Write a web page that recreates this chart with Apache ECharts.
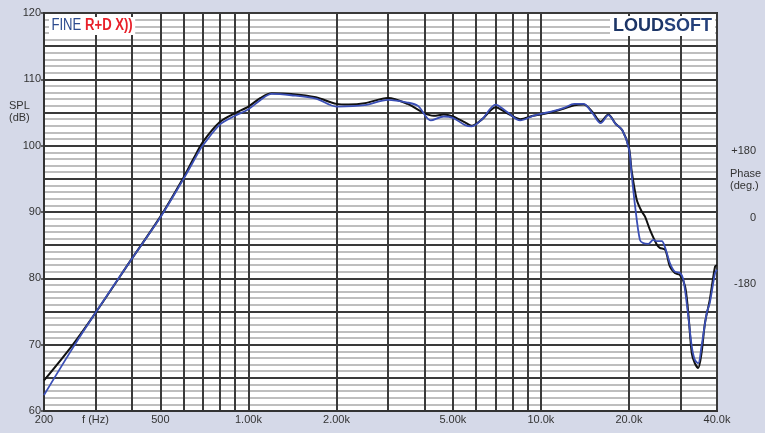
<!DOCTYPE html>
<html>
<head>
<meta charset="utf-8">
<script src="https://cdn.jsdelivr.net/npm/echarts@6/dist/echarts.min.js"></script>
<style>
html,body{margin:0;padding:0;background:#d5d9e8;}
#c{width:765px;height:433px;}
</style>
</head>
<body>
<div id="c"></div>
<script>
// ---- data ----
const blackFreq = [200,250,300,400,500,600,650,700,800,900,1000,1100,1200,1400,1700,2000,2200,2500,3000,3500,4000,4300,4650,5000,5500,5800,6300,7000,7600,8500,9400,10000,11000,12000,13000,14000,15000,16000,17000,18000,19000,20000,20400,21250,22100,22700,23600,24900,25500,26600,27600,28700,29900,31100,31900,32800,33600,34500,35400,36400,37800,39400,40000];
const blackSpl  = [64.6,69.9,74.8,83.0,89.3,95.2,98.1,100.6,103.6,104.9,105.9,107.2,107.9,107.8,107.3,106.3,106.2,106.4,107.2,106.3,104.9,104.5,104.7,104.4,103.5,103.0,104.0,105.8,105.0,104.0,104.5,104.7,105.1,105.6,106.1,106.2,105.1,103.6,104.7,103.3,102.3,99.7,96.4,91.9,90.1,89.3,87.3,85.1,84.6,84.3,81.8,80.8,80.5,78.8,74.8,68.7,67.2,66.5,68.7,73.3,76.8,81.8,82.0];

const blueFreq = [200,250,300,400,500,600,683,700,800,900,1000,1100,1200,1400,1700,2000,2500,3000,3500,3800,4200,4650,5000,5500,5800,6300,7000,7600,8500,9400,10000,11000,12000,13000,14000,15000,16000,17000,18000,19000,20000,20400,21000,21800,22400,23300,24200,24900,25900,26600,27600,28700,29900,30700,31900,32800,33600,34500,35400,36900,37800,39400,40000];
const blueSpl  = [62.4,69.4,74.8,83.0,89.2,95.0,99.4,100.1,103.2,104.5,105.5,106.9,107.8,107.6,107.1,105.9,106.1,106.9,106.5,106.0,103.8,104.4,104.2,103.1,102.9,104.0,106.2,105.2,103.8,104.5,104.8,105.2,105.7,106.3,106.3,104.9,103.4,104.6,103.3,102.3,99.5,95.9,90.8,85.8,85.3,85.2,85.8,85.6,85.6,84.6,82.3,81.0,80.8,79.8,74.3,69.7,67.7,67.2,69.7,74.8,76.3,80.8,81.3];

const gridFreqs = [200,300,400,500,600,700,800,900,1000,2000,3000,4000,5000,6000,7000,8000,9000,10000,20000,30000,40000];
const xLabelFreqs = [200,300,500,1000,2000,5000,10000,20000,40000];
const xLabelTexts = ['200','f (Hz)','500','1.00k','2.00k','5.00k','10.0k','20.0k','40.0k'];
const splTicks = [60,70,80,90,100,110,120];
const phaseAt = [100,90,80];
const phaseTexts = ['+180','0','-180'];

// ---- chart ----
const chart = echarts.init(document.getElementById('c'), null, {renderer:'canvas'});
const FONT = "'Liberation Sans', Arial, sans-serif";
const toPairs = (f, s) => f.map((v, i) => [v, s[i]]);

chart.setOption({
  backgroundColor: '#d5d9e8',
  animation: false,
  title: [
    {
      right: 50, top: 16, padding: [1, 3, 1, 3], backgroundColor: '#fff',
      text: '{a|LOUD}{b|SOFT}',
      textStyle: { rich: {
        a: { fontFamily: FONT, fontSize: 18, fontWeight: 'bold', color: '#1c3566' },
        b: { fontFamily: FONT, fontSize: 18, color: '#24407a' }
      }}
    }
  ],
  grid: { left: 44, right: 48, top: 13, bottom: 22, show: true, backgroundColor: '#fff',
          borderColor: '#333', borderWidth: 2, containLabel: false },
  xAxis: {
    type: 'log', logBase: 10, min: 200, max: 40000,
    axisLine: { show: true, lineStyle: { color: '#333', width: 2 } },
    axisTick: { show: false, customValues: gridFreqs },
    splitLine: { show: true, lineStyle: { color: '#3a3a3a', width: 2 } },
    minorTick: { show: false },
    minorSplitLine: { show: false },
    axisLabel: {
      customValues: xLabelFreqs,
      color: '#333', fontFamily: FONT, fontSize: 11, margin: 3,
      formatter: function (v) {
        const i = xLabelFreqs.findIndex(f => Math.abs(f - v) / f < 1e-6);
        return i >= 0 ? xLabelTexts[i] : '';
      }
    }
  },
  yAxis: [
    {
      type: 'value', min: 60, max: 120, interval: 5, position: 'left',
      axisLine: { show: true, lineStyle: { color: '#333', width: 2 } },
      axisTick: { show: false },
      axisLabel: { show: false },
      splitLine: { show: true, lineStyle: { color: '#3a3a3a', width: 2 } },
      minorTick: { show: false, splitNumber: 5 },
      minorSplitLine: { show: true, lineStyle: { color: '#a9a9a9', width: 1.5 } }
    },
    {
      type: 'value', min: 60, max: 120, interval: 10, position: 'left',
      axisLine: { show: false },
      axisTick: { show: true, length: 3, lineStyle: { color: '#333', width: 1.5 } },
      splitLine: { show: false },
      axisLabel: { color: '#333', fontFamily: FONT, fontSize: 11, margin: 3,
        formatter: v => splTicks.indexOf(v) >= 0 ? String(v) : '' }
    },
    {
      type: 'value', min: 60, max: 120, interval: 10, position: 'right',
      axisLine: { show: false }, axisTick: { show: false }, splitLine: { show: false },
      axisLabel: { color: '#333', fontFamily: FONT, fontSize: 11, margin: 39, align: 'right',
        verticalAlign: 'top',
        formatter: v => { const i = phaseAt.indexOf(v); return i >= 0 ? phaseTexts[i] : ''; } }
    }
  ],
  graphic: [
    { type: 'text', x: 49, y: 17, scaleX: 0.82, z: 100,
      style: { text: '{a|FINE }{b|R+D X))}', backgroundColor: '#fff', padding: [1, 3, 1, 3],
        rich: {
          a: { fontFamily: FONT, fontSize: 16, fill: '#2b4a8e' },
          b: { fontFamily: FONT, fontSize: 16, fontWeight: 'bold', fill: '#e8202a' }
        } } },
    { type: 'text', left: 9, top: 100, style: { text: 'SPL\n(dB)', fill: '#333', font: '11px ' + FONT, lineHeight: 12, align: 'center' } },
    { type: 'text', left: 730, top: 168, style: { text: 'Phase\n(deg.)', fill: '#333', font: '11px ' + FONT, lineHeight: 12, align: 'center' } }
  ],
  series: [
    { name: 'black', type: 'line', data: toPairs(blackFreq, blackSpl), showSymbol: false, smooth: 0.3,
      lineStyle: { color: '#111', width: 2 }, z: 3 },
    { name: 'blue', type: 'line', data: toPairs(blueFreq, blueSpl), showSymbol: false, smooth: 0.3,
      lineStyle: { color: '#3b4fb6', width: 1.8 }, z: 4 }
  ]
});
</script>
</body>
</html>
